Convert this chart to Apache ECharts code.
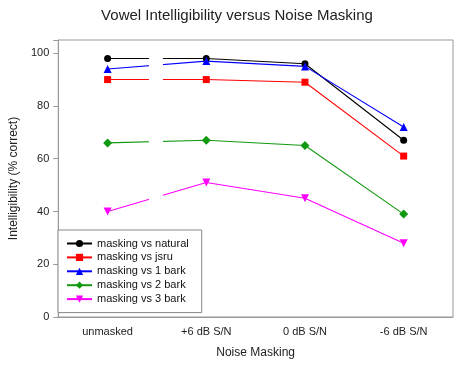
<!DOCTYPE html>
<html><head><meta charset="utf-8">
<script src="https://cdn.jsdelivr.net/npm/echarts@6/dist/echarts.min.js"></script>
<style>html,body{margin:0;padding:0;background:#fff}#c{width:474px;height:365px}</style>
</head><body><div id="c"></div>
<script>
const categories = ['unmasked', '+6 dB S/N', '0 dB S/N', '-6 dB S/N'];
const natural = [98, 98, 96, 67];
const jsru = [90, 90, 89, 61];
const bark1 = [94, 97, 95, 72];
const bark2 = [66, 67, 65, 39];
const bark3 = [40, 51, 45, 28];
const seriesNames = ['masking vs natural', 'masking vs jsru', 'masking vs 1 bark', 'masking vs 2 bark', 'masking vs 3 bark'];

const font = 'Liberation Sans, Arial, sans-serif';
const chart = echarts.init(document.getElementById('c'), null, {renderer: 'canvas'});
function mk(name, data, color, symbol, size, rot) {
  return {
    name, type: 'line', data,
    symbol, symbolSize: size, symbolRotate: rot || 0,
    itemStyle: {color},
    lineStyle: {color, width: 1.1},
    emphasis: {disabled: true}, animation: false
  };
}
chart.setOption({
  animation: false,
  title: {
    text: 'Vowel Intelligibility versus Noise Masking',
    left: 'center', top: 3,
    textStyle: {fontFamily: font, fontSize: 15, fontWeight: 'normal', color: '#222'}
  },
  grid: {left: 54, right: 21, top: 40, bottom: 48, show: true, borderColor: '#999', borderWidth: 1},
  legend: {
    data: seriesNames,
    orient: 'vertical', left: 58, top: 230,
    width: 143, z: 20,
    backgroundColor: '#fff', borderColor: '#888', borderWidth: 1,
    padding: [8, 13, 8, 8],
    itemWidth: 25, itemHeight: 9, itemGap: 2.9,
    textStyle: {fontFamily: font, fontSize: 11, color: '#111', lineHeight: 9}
  },
  xAxis: {
    type: 'category', data: categories, boundaryGap: true,
    name: 'Noise Masking', nameLocation: 'middle', nameGap: 30,
    nameTextStyle: {fontFamily: font, fontSize: 12, color: '#222'},
    axisLine: {lineStyle: {color: '#999'}},
    axisTick: {alignWithLabel: true, length: 5, lineStyle: {color: '#999'}},
    axisLabel: {fontFamily: font, fontSize: 11, color: '#222', margin: 9}
  },
  yAxis: {
    type: 'value', min: 0, max: 105, interval: 20,
    name: 'Intelligibility (% correct)', nameLocation: 'middle', nameGap: 38,
    nameTextStyle: {fontFamily: font, fontSize: 12, color: '#222'},
    axisLine: {show: true, lineStyle: {color: '#999'}},
    axisTick: {show: true, length: 5, lineStyle: {color: '#999'}},
    splitLine: {show: false},
    axisLabel: {fontFamily: font, fontSize: 11, color: '#222', margin: 9,
      formatter: v => (v % 20 === 0 ? String(v) : '')}
  },
  series: [
    mk(seriesNames[0], natural, '#000000', 'circle', 7),
    mk(seriesNames[1], jsru, '#ff0000', 'rect', 7),
    mk(seriesNames[2], bark1, '#0000ff', 'triangle', 8),
    mk(seriesNames[3], bark2, '#119911', 'diamond', 9),
    mk(seriesNames[4], bark3, '#ff00ff', 'triangle', 8, 180)
  ]
});
// break in the lines between the first two categories (as in the source figure)
const xa = chart.convertToPixel({xAxisIndex: 0}, categories[0]);
const xb = chart.convertToPixel({xAxisIndex: 0}, categories[1]);
const yTop = chart.convertToPixel({yAxisIndex: 0}, 101);
const yBot = chart.convertToPixel({yAxisIndex: 0}, 35);
const xm = xa + (xb - xa) * 0.49;
chart.setOption({
  graphic: [{
    type: 'rect', z: 15, silent: true,
    shape: {x: xm - 7, y: yTop, width: 14, height: yBot - yTop},
    style: {fill: '#ffffff'}
  }]
});
</script></body></html>
